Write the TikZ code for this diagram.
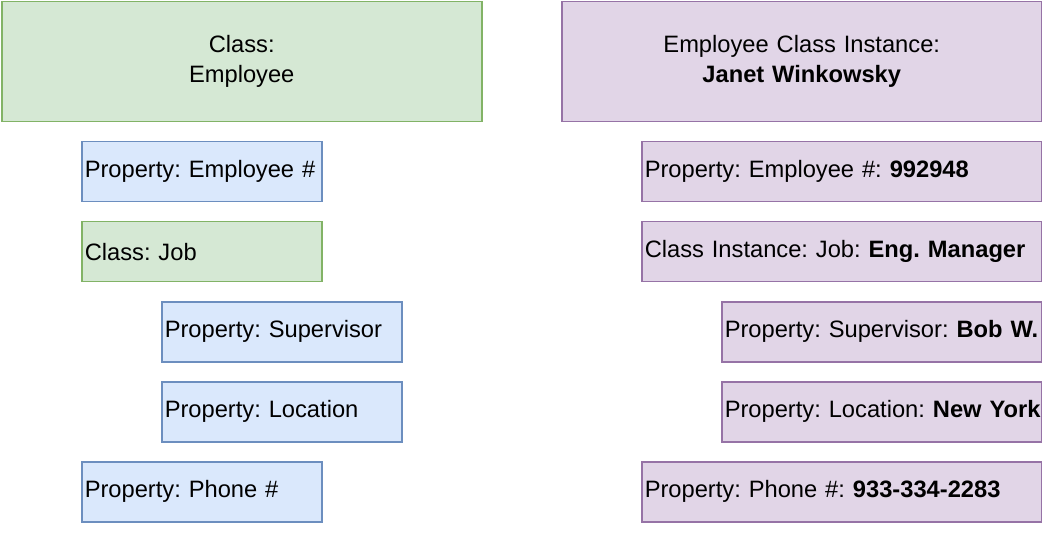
\documentclass[tikz,border=0pt]{standalone}
\usepackage{fontspec}
\setmainfont{Liberation Sans}
\frenchspacing
\definecolor{clsfill}{HTML}{D5E8D4}
\definecolor{clsline}{HTML}{82B366}
\definecolor{propfill}{HTML}{DAE8FC}
\definecolor{propline}{HTML}{6C8EBF}
\definecolor{instfill}{HTML}{E1D5E7}
\definecolor{instline}{HTML}{9673A6}
\tikzset{
  box/.style={draw, line width=1.5pt, anchor=north west, minimum height=60pt,
    inner xsep=3pt, inner ysep=0pt, align=left,
    font=\fontsize{23.7}{30}\selectfont},
  clsbox/.style={box, draw=clsline, fill=clsfill},
  propbox/.style={box, draw=propline, fill=propfill},
  instbox/.style={box, draw=instline, fill=instfill},
  headbox/.style={minimum height=120pt, text width=474pt, align=center},
}
\begin{document}
\begin{tikzpicture}[x=1pt, y=-1pt]
\useasboundingbox (0,0) rectangle (1042,540);
%%%%% Class %%%%%
\node[clsbox, headbox] (empclass) at (1,1) {Class:\\Employee};
\node[propbox, text width=234pt] (empnum) at (81,141) {Property: Employee \#};
\node[clsbox, text width=234pt] (jobclass) at (81,221) {Class: Job};
\node[propbox, text width=234pt] (super) at (161,301) {Property: Supervisor};
\node[propbox, text width=234pt] (loc) at (161,381) {Property: Location};
\node[propbox, text width=234pt] (phone) at (81,461) {Property: Phone \#};
%%%%% Instance %%%%%
\node[instbox, headbox] (empinst) at (561,1) {Employee Class Instance:\\\textbf{Janet Winkowsky}};
\node[instbox, text width=394pt] (empnumval) at (641,141) {\mbox{Property: Employee \#: \textbf{992948}}};
\node[instbox, text width=394pt] (jobinst) at (641,221) {\mbox{Class Instance: Job: \textbf{Eng. Manager}}};
\node[instbox, text width=314pt] (superval) at (721,301) {\mbox{Property: Supervisor: \textbf{Bob W.}}};
\node[instbox, text width=314pt] (locval) at (721,381) {\mbox{Property: Location: \textbf{New York}}};
\node[instbox, text width=394pt] (phoneval) at (641,461) {\mbox{Property: Phone \#: \textbf{933-334-2283}}};
\end{tikzpicture}
\end{document}
